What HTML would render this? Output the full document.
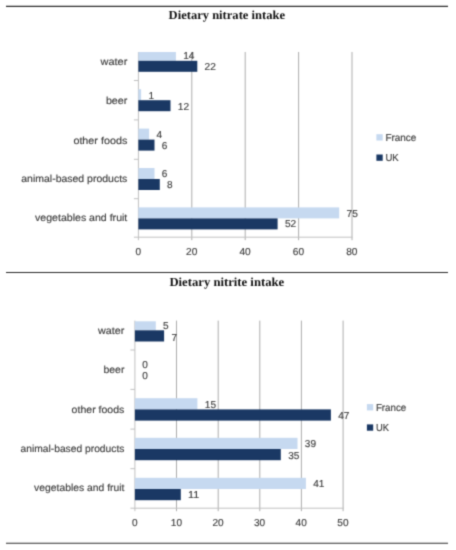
<!DOCTYPE html><html><head><meta charset="utf-8"><title>Dietary intake</title>
<style>html,body{margin:0;padding:0;background:#fff}svg{display:block}text{text-rendering:geometricPrecision}.s{font-family:"Liberation Sans", sans-serif;font-size:10.1px;fill:#404040;stroke:#404040;stroke-width:0.15px}.t{font-family:"Liberation Serif", serif;font-weight:bold;font-size:12.4px;fill:#111}</style></head><body>
<svg width="456" height="550" viewBox="0 0 456 550">
<defs><filter id="soft" x="0" y="0" width="456" height="550" filterUnits="userSpaceOnUse" color-interpolation-filters="sRGB"><feConvolveMatrix order="3" kernelMatrix="1 4 1 4 16 4 1 4 1" divisor="36" edgeMode="duplicate" preserveAlpha="false"/></filter></defs>
<g filter="url(#soft)">
<rect width="456" height="550" fill="#fff"/>
<line x1="6" x2="448" y1="6.4" y2="6.4" stroke="#2c2c2c" stroke-width="1.1"/>
<line x1="6" x2="448" y1="272.45" y2="272.45" stroke="#2c2c2c" stroke-width="1.1"/>
<line x1="6" x2="448" y1="543.3" y2="543.3" stroke="#2c2c2c" stroke-width="1.1"/>
<text class="t" x="168.6" y="19.4" textLength="116.4" lengthAdjust="spacingAndGlyphs">Dietary nitrate intake</text>
<line x1="138.4" x2="138.4" y1="52" y2="240.2" stroke="#c0c0c0" stroke-width="1"/>
<text class="s" x="135.4" y="255.4" textLength="5.6" lengthAdjust="spacingAndGlyphs">0</text>
<line x1="191.8" x2="191.8" y1="52" y2="240.2" stroke="#adadad" stroke-width="1"/>
<text class="s" x="186.0" y="255.4" textLength="11.3" lengthAdjust="spacingAndGlyphs">20</text>
<line x1="245.2" x2="245.2" y1="52" y2="240.2" stroke="#adadad" stroke-width="1"/>
<text class="s" x="239.4" y="255.4" textLength="11.3" lengthAdjust="spacingAndGlyphs">40</text>
<line x1="298.6" x2="298.6" y1="52" y2="240.2" stroke="#adadad" stroke-width="1"/>
<text class="s" x="292.8" y="255.4" textLength="11.3" lengthAdjust="spacingAndGlyphs">60</text>
<line x1="352.0" x2="352.0" y1="52" y2="240.2" stroke="#adadad" stroke-width="1"/>
<text class="s" x="346.2" y="255.4" textLength="11.3" lengthAdjust="spacingAndGlyphs">80</text>
<line x1="133.9" x2="352.5" y1="237.2" y2="237.2" stroke="#c0c0c0" stroke-width="1"/>
<line x1="133.9" x2="138.4" y1="80.5" y2="80.5" stroke="#c0c0c0" stroke-width="1"/>
<line x1="133.9" x2="138.4" y1="119.9" y2="119.9" stroke="#c0c0c0" stroke-width="1"/>
<line x1="133.9" x2="138.4" y1="159.3" y2="159.3" stroke="#c0c0c0" stroke-width="1"/>
<line x1="133.9" x2="138.4" y1="198.7" y2="198.7" stroke="#c0c0c0" stroke-width="1"/>
<rect x="138.4" y="52.0" width="37.5" height="8.8" fill="#c6d9f0"/>
<rect x="138.4" y="60.8" width="58.9" height="11.0" fill="#1a3864"/>
<text class="s" x="183.2" y="59.0" textLength="11.3" lengthAdjust="spacingAndGlyphs">14</text>
<text class="s" x="204.6" y="70.2" textLength="11.3" lengthAdjust="spacingAndGlyphs">22</text>
<text class="s" x="100.5" y="64.6" textLength="26.8" lengthAdjust="spacingAndGlyphs">water</text>
<rect x="138.4" y="89.2" width="2.7" height="11.0" fill="#c6d9f0"/>
<rect x="138.4" y="100.2" width="32.1" height="11.0" fill="#1a3864"/>
<text class="s" x="148.4" y="98.8" textLength="5.6" lengthAdjust="spacingAndGlyphs">1</text>
<text class="s" x="177.8" y="110.0" textLength="11.3" lengthAdjust="spacingAndGlyphs">12</text>
<text class="s" x="105.9" y="103.8" textLength="21.4" lengthAdjust="spacingAndGlyphs">beer</text>
<rect x="138.4" y="128.6" width="10.7" height="11.0" fill="#c6d9f0"/>
<rect x="138.4" y="139.6" width="16.1" height="11.0" fill="#1a3864"/>
<text class="s" x="156.4" y="137.5" textLength="5.6" lengthAdjust="spacingAndGlyphs">4</text>
<text class="s" x="161.8" y="148.7" textLength="5.6" lengthAdjust="spacingAndGlyphs">6</text>
<text class="s" x="73.4" y="143.6" textLength="53.9" lengthAdjust="spacingAndGlyphs">other foods</text>
<rect x="138.4" y="168.0" width="16.1" height="11.0" fill="#c6d9f0"/>
<rect x="138.4" y="179.0" width="21.4" height="11.0" fill="#1a3864"/>
<text class="s" x="161.8" y="177.1" textLength="5.6" lengthAdjust="spacingAndGlyphs">6</text>
<text class="s" x="167.1" y="188.1" textLength="5.6" lengthAdjust="spacingAndGlyphs">8</text>
<text class="s" x="21.3" y="181.8" textLength="106.0" lengthAdjust="spacingAndGlyphs">animal-based products</text>
<rect x="138.4" y="207.4" width="200.8" height="11.0" fill="#c6d9f0"/>
<rect x="138.4" y="218.4" width="139.2" height="11.0" fill="#1a3864"/>
<text class="s" x="346.5" y="216.9" textLength="11.3" lengthAdjust="spacingAndGlyphs">75</text>
<text class="s" x="284.9" y="227.2" textLength="11.3" lengthAdjust="spacingAndGlyphs">52</text>
<text class="s" x="35.1" y="221.0" textLength="92.2" lengthAdjust="spacingAndGlyphs">vegetables and fruit</text>
<rect x="376.4" y="134.2" width="6.3" height="6.3" fill="#c6d9f0"/>
<text class="s" x="385.4" y="140.6" textLength="31.0" lengthAdjust="spacingAndGlyphs">France</text>
<rect x="376.4" y="154.5" width="6.3" height="6.3" fill="#1a3864"/>
<text class="s" x="385.4" y="160.9" textLength="13.3" lengthAdjust="spacingAndGlyphs">UK</text>
<text class="t" x="169.4" y="285.6" textLength="114.8" lengthAdjust="spacingAndGlyphs">Dietary nitrite intake</text>
<line x1="134.9" x2="134.9" y1="320.6" y2="511.2" stroke="#c0c0c0" stroke-width="1"/>
<text class="s" x="131.9" y="526.4" textLength="5.6" lengthAdjust="spacingAndGlyphs">0</text>
<line x1="176.5" x2="176.5" y1="320.6" y2="511.2" stroke="#adadad" stroke-width="1"/>
<text class="s" x="170.8" y="526.4" textLength="11.2" lengthAdjust="spacingAndGlyphs">10</text>
<line x1="218.2" x2="218.2" y1="320.6" y2="511.2" stroke="#adadad" stroke-width="1"/>
<text class="s" x="212.4" y="526.4" textLength="11.2" lengthAdjust="spacingAndGlyphs">20</text>
<line x1="259.8" x2="259.8" y1="320.6" y2="511.2" stroke="#adadad" stroke-width="1"/>
<text class="s" x="254.0" y="526.4" textLength="11.2" lengthAdjust="spacingAndGlyphs">30</text>
<line x1="301.4" x2="301.4" y1="320.6" y2="511.2" stroke="#adadad" stroke-width="1"/>
<text class="s" x="295.6" y="526.4" textLength="11.2" lengthAdjust="spacingAndGlyphs">40</text>
<line x1="343.1" x2="343.1" y1="320.6" y2="511.2" stroke="#adadad" stroke-width="1"/>
<text class="s" x="337.3" y="526.4" textLength="11.2" lengthAdjust="spacingAndGlyphs">50</text>
<line x1="130.4" x2="343.6" y1="508.2" y2="508.2" stroke="#c0c0c0" stroke-width="1"/>
<line x1="130.4" x2="134.9" y1="350.0" y2="350.0" stroke="#c0c0c0" stroke-width="1"/>
<line x1="130.4" x2="134.9" y1="389.4" y2="389.4" stroke="#c0c0c0" stroke-width="1"/>
<line x1="130.4" x2="134.9" y1="429.1" y2="429.1" stroke="#c0c0c0" stroke-width="1"/>
<line x1="130.4" x2="134.9" y1="468.7" y2="468.7" stroke="#c0c0c0" stroke-width="1"/>
<rect x="134.9" y="321.3" width="20.9" height="9.0" fill="#c6d9f0"/>
<rect x="134.9" y="330.3" width="29.2" height="11.2" fill="#1a3864"/>
<text class="s" x="163.1" y="328.7" textLength="5.6" lengthAdjust="spacingAndGlyphs">5</text>
<text class="s" x="171.4" y="340.6" textLength="5.6" lengthAdjust="spacingAndGlyphs">7</text>
<text class="s" x="98.1" y="333.8" textLength="26.3" lengthAdjust="spacingAndGlyphs">water</text>
<text class="s" x="142.2" y="367.6" textLength="5.6" lengthAdjust="spacingAndGlyphs">0</text>
<text class="s" x="142.2" y="378.8" textLength="5.6" lengthAdjust="spacingAndGlyphs">0</text>
<text class="s" x="103.5" y="373.2" textLength="20.9" lengthAdjust="spacingAndGlyphs">beer</text>
<rect x="134.9" y="398.2" width="62.5" height="11.2" fill="#c6d9f0"/>
<rect x="134.9" y="409.4" width="196.0" height="11.2" fill="#1a3864"/>
<text class="s" x="204.8" y="408.2" textLength="11.2" lengthAdjust="spacingAndGlyphs">15</text>
<text class="s" x="338.2" y="419.4" textLength="11.2" lengthAdjust="spacingAndGlyphs">47</text>
<text class="s" x="71.6" y="413.1" textLength="52.8" lengthAdjust="spacingAndGlyphs">other foods</text>
<rect x="134.9" y="437.8" width="162.6" height="11.2" fill="#c6d9f0"/>
<rect x="134.9" y="449.0" width="145.9" height="11.2" fill="#1a3864"/>
<text class="s" x="304.8" y="447.0" textLength="11.2" lengthAdjust="spacingAndGlyphs">39</text>
<text class="s" x="288.2" y="458.9" textLength="11.2" lengthAdjust="spacingAndGlyphs">35</text>
<text class="s" x="20.5" y="452.1" textLength="103.9" lengthAdjust="spacingAndGlyphs">animal-based products</text>
<rect x="134.9" y="477.8" width="171.0" height="11.2" fill="#c6d9f0"/>
<rect x="134.9" y="489.0" width="45.9" height="11.2" fill="#1a3864"/>
<text class="s" x="313.2" y="486.8" textLength="11.2" lengthAdjust="spacingAndGlyphs">41</text>
<text class="s" x="188.1" y="498.4" textLength="11.2" lengthAdjust="spacingAndGlyphs">11</text>
<text class="s" x="34.1" y="491.3" textLength="90.3" lengthAdjust="spacingAndGlyphs">vegetables and fruit</text>
<rect x="366.9" y="404.1" width="6.3" height="6.3" fill="#c6d9f0"/>
<text class="s" x="375.9" y="410.5" textLength="30.4" lengthAdjust="spacingAndGlyphs">France</text>
<rect x="366.9" y="424.4" width="6.3" height="6.3" fill="#1a3864"/>
<text class="s" x="375.9" y="430.8" textLength="13.0" lengthAdjust="spacingAndGlyphs">UK</text>
</g></svg></body></html>
